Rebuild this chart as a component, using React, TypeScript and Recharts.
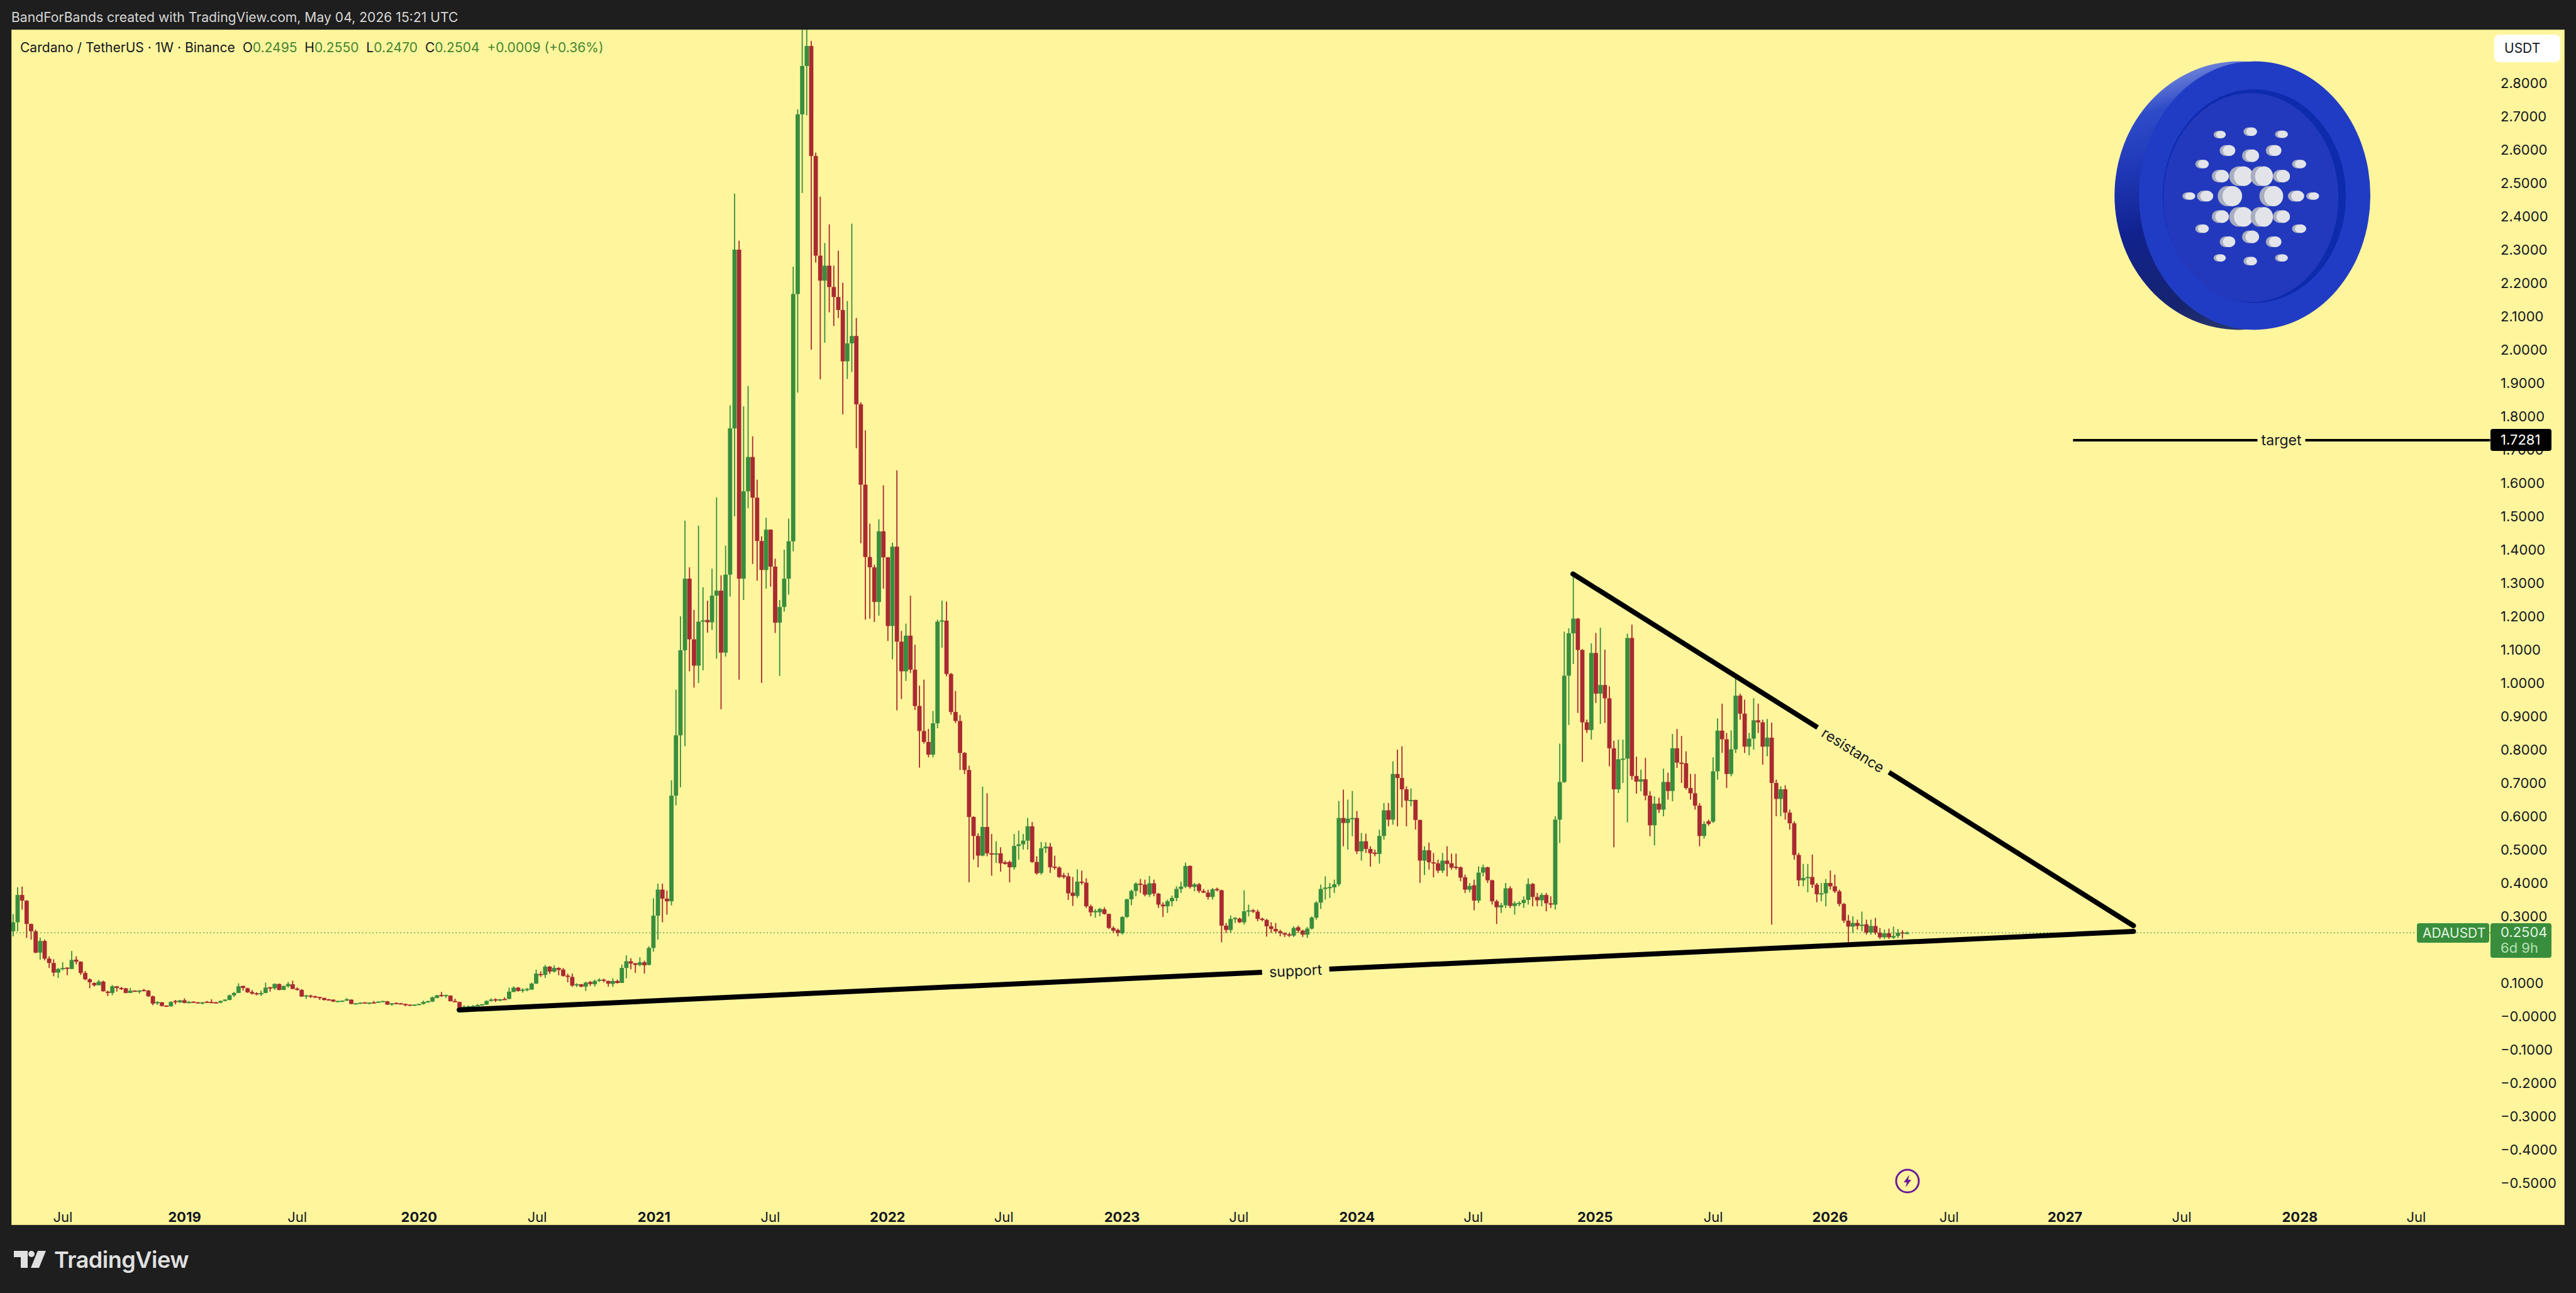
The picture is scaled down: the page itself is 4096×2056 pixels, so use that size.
import { Bar, ComposedChart, ReferenceDot, ReferenceLine, XAxis, YAxis } from 'recharts'

// weekly ADAUSDT candles as [open, high, low, close]
const candles2018 = [
	[0.255, 0.307, 0.24, 0.282], [0.282, 0.387, 0.255, 0.364], [0.364, 0.389, 0.32, 0.347], [0.347, 0.348, 0.235, 0.277],
	[0.277, 0.278, 0.23, 0.255], [0.255, 0.26, 0.189, 0.191], [0.191, 0.236, 0.17, 0.226], [0.226, 0.23, 0.168, 0.173],
	[0.173, 0.18, 0.145, 0.16], [0.16, 0.171, 0.12, 0.131], [0.131, 0.145, 0.115, 0.142], [0.142, 0.162, 0.138, 0.145],
	[0.146, 0.147, 0.123, 0.144], [0.142, 0.196, 0.142, 0.169], [0.17, 0.18, 0.156, 0.164], [0.164, 0.165, 0.124, 0.13],
	[0.13, 0.136, 0.108, 0.111], [0.111, 0.114, 0.084, 0.102], [0.1, 0.102, 0.089, 0.093], [0.093, 0.109, 0.093, 0.104],
	[0.104, 0.107, 0.074, 0.075], [0.074, 0.077, 0.061, 0.07], [0.07, 0.094, 0.063, 0.09], [0.09, 0.091, 0.074, 0.085],
	[0.085, 0.088, 0.079, 0.084], [0.084, 0.085, 0.069, 0.07], [0.07, 0.085, 0.07, 0.077], [0.077, 0.078, 0.074, 0.075],
	[0.075, 0.079, 0.068, 0.077], [0.079, 0.082, 0.075, 0.077], [0.077, 0.079, 0.058, 0.06], [0.06, 0.062, 0.033, 0.038],
	[0.039, 0.045, 0.034, 0.043], [0.042, 0.043, 0.029, 0.031], [0.032, 0.033, 0.029, 0.03], [0.03, 0.045, 0.029, 0.043],
	[0.046, 0.049, 0.036, 0.043], [0.042, 0.049, 0.04, 0.048]
]
const candles2019 = [
	[0.048, 0.054, 0.039, 0.04], [0.04, 0.046, 0.039, 0.043], [0.044, 0.045, 0.041, 0.042], [0.042, 0.043, 0.04, 0.041],
	[0.038, 0.043, 0.036, 0.042], [0.044, 0.046, 0.041, 0.042], [0.043, 0.051, 0.041, 0.042], [0.042, 0.043, 0.041, 0.041],
	[0.041, 0.047, 0.039, 0.046], [0.046, 0.051, 0.045, 0.05], [0.049, 0.065, 0.048, 0.063], [0.063, 0.073, 0.058, 0.07],
	[0.07, 0.099, 0.07, 0.09], [0.091, 0.092, 0.077, 0.085], [0.084, 0.086, 0.07, 0.072], [0.073, 0.079, 0.065, 0.068],
	[0.069, 0.072, 0.063, 0.066], [0.066, 0.077, 0.061, 0.07], [0.07, 0.101, 0.069, 0.086], [0.087, 0.088, 0.074, 0.086],
	[0.084, 0.099, 0.079, 0.097], [0.097, 0.098, 0.078, 0.079], [0.079, 0.092, 0.079, 0.091], [0.09, 0.103, 0.086, 0.097],
	[0.096, 0.107, 0.081, 0.082], [0.083, 0.087, 0.077, 0.082], [0.079, 0.082, 0.059, 0.059], [0.061, 0.064, 0.052, 0.063],
	[0.062, 0.065, 0.055, 0.061], [0.06, 0.062, 0.055, 0.056], [0.058, 0.058, 0.049, 0.056], [0.055, 0.056, 0.047, 0.049],
	[0.051, 0.052, 0.047, 0.049], [0.05, 0.051, 0.043, 0.044], [0.045, 0.047, 0.044, 0.046], [0.046, 0.047, 0.045, 0.047],
	[0.047, 0.055, 0.046, 0.051], [0.05, 0.051, 0.036, 0.037], [0.037, 0.04, 0.036, 0.039], [0.039, 0.042, 0.038, 0.041],
	[0.042, 0.042, 0.038, 0.04], [0.039, 0.042, 0.036, 0.041], [0.042, 0.046, 0.04, 0.041], [0.043, 0.045, 0.042, 0.044],
	[0.045, 0.046, 0.043, 0.046], [0.045, 0.046, 0.034, 0.035], [0.035, 0.04, 0.032, 0.039], [0.04, 0.042, 0.038, 0.039],
	[0.039, 0.04, 0.036, 0.037], [0.037, 0.038, 0.03, 0.036], [0.035, 0.036, 0.033, 0.034], [0.034, 0.036, 0.033, 0.035]
]
const candles2020 = [
	[0.035, 0.038, 0.034, 0.037], [0.037, 0.047, 0.035, 0.043], [0.043, 0.047, 0.041, 0.045], [0.044, 0.059, 0.043, 0.057],
	[0.055, 0.064, 0.054, 0.063], [0.064, 0.073, 0.058, 0.063], [0.063, 0.065, 0.055, 0.064], [0.062, 0.063, 0.045, 0.045],
	[0.046, 0.053, 0.043, 0.043], [0.043, 0.044, 0.024, 0.026], [0.026, 0.033, 0.024, 0.029], [0.029, 0.032, 0.027, 0.03],
	[0.03, 0.034, 0.029, 0.031], [0.032, 0.037, 0.031, 0.034], [0.034, 0.037, 0.033, 0.036], [0.035, 0.048, 0.034, 0.046],
	[0.046, 0.054, 0.044, 0.05], [0.051, 0.054, 0.043, 0.049], [0.047, 0.052, 0.045, 0.051], [0.052, 0.057, 0.05, 0.051],
	[0.052, 0.086, 0.051, 0.074], [0.073, 0.09, 0.072, 0.086], [0.086, 0.088, 0.074, 0.076], [0.078, 0.084, 0.071, 0.08],
	[0.08, 0.085, 0.075, 0.082], [0.08, 0.101, 0.08, 0.098], [0.098, 0.14, 0.097, 0.128], [0.127, 0.135, 0.118, 0.125],
	[0.124, 0.154, 0.115, 0.149], [0.149, 0.151, 0.127, 0.134], [0.134, 0.153, 0.131, 0.145], [0.145, 0.147, 0.123, 0.139],
	[0.14, 0.145, 0.119, 0.121], [0.122, 0.128, 0.102, 0.118], [0.118, 0.128, 0.088, 0.092], [0.094, 0.099, 0.088, 0.096],
	[0.096, 0.097, 0.087, 0.089], [0.089, 0.104, 0.076, 0.101], [0.103, 0.106, 0.091, 0.097], [0.096, 0.11, 0.089, 0.106],
	[0.107, 0.114, 0.103, 0.11], [0.11, 0.113, 0.102, 0.108], [0.106, 0.107, 0.089, 0.098], [0.097, 0.114, 0.088, 0.106],
	[0.106, 0.11, 0.098, 0.1], [0.1, 0.155, 0.1, 0.145], [0.145, 0.183, 0.114, 0.165], [0.165, 0.174, 0.141, 0.158],
	[0.159, 0.16, 0.13, 0.154], [0.154, 0.177, 0.15, 0.162], [0.162, 0.167, 0.128, 0.153], [0.154, 0.21, 0.153, 0.205]
]
const candles2021 = [
	[0.205, 0.354, 0.194, 0.302], [0.302, 0.398, 0.23, 0.38], [0.38, 0.398, 0.282, 0.353], [0.353, 0.377, 0.305, 0.345],
	[0.345, 0.708, 0.333, 0.662], [0.662, 0.98, 0.633, 0.843], [0.843, 1.2, 0.687, 1.098], [1.098, 1.487, 0.81, 1.313],
	[1.313, 1.347, 1.035, 1.131], [1.131, 1.219, 0.986, 1.052], [1.052, 1.472, 1.0, 1.184], [1.184, 1.287, 1.038, 1.188],
	[1.189, 1.247, 1.151, 1.182], [1.182, 1.343, 1.159, 1.262], [1.262, 1.557, 1.073, 1.277], [1.277, 1.323, 0.921, 1.091],
	[1.091, 1.412, 1.079, 1.325], [1.325, 1.833, 1.259, 1.764], [1.764, 2.468, 1.5, 2.3], [2.3, 2.327, 1.01, 1.313],
	[1.313, 1.83, 1.249, 1.575], [1.575, 1.891, 1.524, 1.678], [1.678, 1.74, 1.357, 1.556], [1.556, 1.61, 1.307, 1.426],
	[1.426, 1.44, 1.0, 1.339], [1.339, 1.496, 1.283, 1.46], [1.46, 1.461, 1.289, 1.349], [1.349, 1.373, 1.15, 1.181],
	[1.181, 1.249, 1.021, 1.228], [1.228, 1.4, 1.214, 1.313], [1.313, 1.493, 1.265, 1.425], [1.425, 2.249, 1.395, 2.167],
	[2.167, 2.721, 1.871, 2.706], [2.706, 3.05, 2.47, 2.851], [2.851, 3.1, 2.703, 2.911], [2.911, 2.926, 2.0, 2.581],
	[2.581, 2.591, 2.261, 2.282], [2.282, 2.459, 1.911, 2.207], [2.207, 2.32, 2.021, 2.252], [2.252, 2.376, 2.112, 2.188],
	[2.188, 2.252, 2.071, 2.158], [2.158, 2.297, 2.095, 2.119], [2.119, 2.201, 1.806, 1.965], [1.965, 2.146, 1.912, 2.019],
	[2.019, 2.378, 1.933, 2.041], [2.041, 2.095, 1.704, 1.836], [1.836, 1.842, 1.419, 1.595], [1.595, 1.758, 1.19, 1.378],
	[1.378, 1.478, 1.193, 1.347], [1.347, 1.355, 1.183, 1.243], [1.243, 1.491, 1.202, 1.455], [1.455, 1.593, 1.283, 1.377]
]
const candles2022 = [
	[1.377, 1.378, 1.126, 1.171], [1.171, 1.421, 1.071, 1.409], [1.409, 1.638, 0.918, 1.124], [1.124, 1.156, 0.952, 1.035],
	[1.035, 1.178, 1.006, 1.142], [1.142, 1.262, 1.03, 1.04], [1.04, 1.115, 0.919, 0.931], [0.931, 0.992, 0.746, 0.856],
	[0.856, 1.01, 0.818, 0.823], [0.823, 0.862, 0.777, 0.785], [0.785, 0.916, 0.777, 0.879], [0.879, 1.19, 0.864, 1.184],
	[1.184, 1.247, 1.106, 1.188], [1.187, 1.244, 1.02, 1.027], [1.027, 1.03, 0.905, 0.913], [0.913, 0.976, 0.88, 0.886],
	[0.886, 0.904, 0.739, 0.79], [0.79, 0.793, 0.727, 0.739], [0.739, 0.752, 0.402, 0.598], [0.598, 0.6, 0.47, 0.541],
	[0.541, 0.549, 0.447, 0.482], [0.482, 0.689, 0.48, 0.568], [0.568, 0.669, 0.48, 0.489], [0.489, 0.547, 0.422, 0.485],
	[0.485, 0.525, 0.46, 0.489], [0.489, 0.507, 0.434, 0.459], [0.462, 0.467, 0.455, 0.457], [0.463, 0.467, 0.402, 0.447],
	[0.447, 0.547, 0.44, 0.511], [0.511, 0.557, 0.47, 0.516], [0.516, 0.547, 0.5, 0.527], [0.527, 0.595, 0.5, 0.57],
	[0.57, 0.583, 0.46, 0.463], [0.463, 0.48, 0.425, 0.429], [0.43, 0.523, 0.425, 0.504], [0.504, 0.522, 0.49, 0.509],
	[0.509, 0.52, 0.43, 0.447], [0.449, 0.482, 0.44, 0.446], [0.446, 0.45, 0.415, 0.418], [0.423, 0.43, 0.413, 0.418],
	[0.42, 0.43, 0.349, 0.369], [0.371, 0.418, 0.331, 0.361], [0.361, 0.441, 0.355, 0.404], [0.404, 0.437, 0.395, 0.401],
	[0.401, 0.414, 0.325, 0.33], [0.33, 0.335, 0.3, 0.312], [0.312, 0.322, 0.296, 0.316], [0.312, 0.325, 0.3, 0.322],
	[0.321, 0.327, 0.305, 0.307], [0.307, 0.308, 0.262, 0.265], [0.265, 0.27, 0.25, 0.257], [0.259, 0.263, 0.24, 0.25]
]
const candles2023 = [
	[0.249, 0.3, 0.245, 0.298], [0.298, 0.353, 0.295, 0.351], [0.351, 0.38, 0.333, 0.376], [0.376, 0.402, 0.36, 0.398],
	[0.398, 0.412, 0.37, 0.395], [0.395, 0.41, 0.36, 0.365], [0.365, 0.421, 0.358, 0.399], [0.399, 0.41, 0.36, 0.368],
	[0.368, 0.37, 0.325, 0.335], [0.335, 0.342, 0.298, 0.33], [0.33, 0.35, 0.31, 0.345], [0.345, 0.362, 0.33, 0.355],
	[0.355, 0.39, 0.345, 0.382], [0.382, 0.404, 0.37, 0.389], [0.389, 0.461, 0.385, 0.451], [0.451, 0.453, 0.383, 0.388],
	[0.388, 0.4, 0.375, 0.396], [0.396, 0.4, 0.37, 0.376], [0.376, 0.382, 0.37, 0.371], [0.371, 0.38, 0.35, 0.358],
	[0.358, 0.385, 0.35, 0.381], [0.382, 0.386, 0.375, 0.378], [0.378, 0.38, 0.222, 0.272], [0.272, 0.28, 0.25, 0.259],
	[0.259, 0.303, 0.25, 0.292], [0.292, 0.298, 0.28, 0.295], [0.293, 0.296, 0.28, 0.282], [0.282, 0.378, 0.275, 0.315],
	[0.315, 0.335, 0.3, 0.318], [0.318, 0.322, 0.31, 0.314], [0.314, 0.32, 0.285, 0.292], [0.293, 0.296, 0.285, 0.289],
	[0.289, 0.292, 0.239, 0.27], [0.27, 0.282, 0.25, 0.262], [0.262, 0.28, 0.248, 0.255], [0.255, 0.26, 0.24, 0.249],
	[0.249, 0.252, 0.238, 0.245], [0.246, 0.25, 0.238, 0.242], [0.242, 0.27, 0.238, 0.265], [0.267, 0.272, 0.25, 0.257],
	[0.257, 0.26, 0.238, 0.245], [0.245, 0.268, 0.235, 0.263], [0.263, 0.3, 0.26, 0.296], [0.296, 0.345, 0.29, 0.341],
	[0.341, 0.395, 0.322, 0.382], [0.382, 0.42, 0.35, 0.386], [0.386, 0.4, 0.355, 0.388], [0.387, 0.41, 0.37, 0.396],
	[0.396, 0.646, 0.39, 0.595], [0.595, 0.68, 0.51, 0.58], [0.58, 0.65, 0.5, 0.593], [0.593, 0.676, 0.54, 0.595]
]
const candles2024 = [
	[0.595, 0.616, 0.487, 0.495], [0.495, 0.55, 0.467, 0.525], [0.525, 0.548, 0.49, 0.502], [0.502, 0.51, 0.449, 0.489],
	[0.491, 0.5, 0.48, 0.487], [0.487, 0.56, 0.458, 0.541], [0.541, 0.64, 0.53, 0.618], [0.618, 0.64, 0.57, 0.59],
	[0.59, 0.765, 0.575, 0.727], [0.727, 0.8, 0.57, 0.715], [0.715, 0.81, 0.627, 0.681], [0.681, 0.69, 0.57, 0.647],
	[0.647, 0.684, 0.63, 0.649], [0.649, 0.65, 0.56, 0.589], [0.589, 0.59, 0.4, 0.467], [0.467, 0.51, 0.424, 0.498],
	[0.498, 0.521, 0.44, 0.462], [0.462, 0.49, 0.417, 0.459], [0.459, 0.47, 0.43, 0.437], [0.437, 0.49, 0.43, 0.467],
	[0.467, 0.51, 0.42, 0.457], [0.459, 0.488, 0.44, 0.446], [0.449, 0.488, 0.44, 0.447], [0.447, 0.45, 0.405, 0.416],
	[0.417, 0.425, 0.37, 0.38], [0.38, 0.4, 0.372, 0.391], [0.393, 0.41, 0.318, 0.347], [0.347, 0.45, 0.34, 0.431],
	[0.431, 0.455, 0.42, 0.447], [0.447, 0.449, 0.4, 0.408], [0.408, 0.41, 0.335, 0.345], [0.345, 0.35, 0.277, 0.327],
	[0.327, 0.34, 0.31, 0.333], [0.333, 0.4, 0.325, 0.384], [0.384, 0.39, 0.325, 0.331], [0.331, 0.345, 0.305, 0.339],
	[0.339, 0.345, 0.33, 0.34], [0.34, 0.36, 0.325, 0.349], [0.349, 0.414, 0.335, 0.397], [0.397, 0.4, 0.33, 0.358],
	[0.358, 0.37, 0.33, 0.348], [0.348, 0.37, 0.33, 0.364], [0.364, 0.37, 0.315, 0.339], [0.339, 0.36, 0.325, 0.335],
	[0.335, 0.6, 0.32, 0.59], [0.59, 0.818, 0.52, 0.703], [0.703, 1.154, 0.7, 1.022], [1.022, 1.164, 0.874, 1.149],
	[1.149, 1.327, 1.057, 1.193], [1.193, 1.195, 0.91, 1.099], [1.099, 1.102, 0.763, 0.882], [0.882, 0.89, 0.85, 0.859]
]
const candles2025 = [
	[0.859, 1.119, 0.83, 1.09], [1.09, 1.15, 0.94, 0.968], [0.968, 1.166, 0.877, 0.994], [0.994, 1.1, 0.88, 0.954],
	[0.954, 0.99, 0.75, 0.804], [0.804, 0.827, 0.507, 0.681], [0.681, 0.83, 0.67, 0.771], [0.771, 0.83, 0.7, 0.773],
	[0.773, 1.148, 0.582, 1.135], [1.135, 1.175, 0.71, 0.721], [0.721, 0.779, 0.668, 0.704], [0.704, 0.74, 0.675, 0.711],
	[0.711, 0.775, 0.648, 0.662], [0.662, 0.675, 0.54, 0.573], [0.573, 0.66, 0.513, 0.638], [0.638, 0.656, 0.61, 0.62],
	[0.62, 0.743, 0.6, 0.703], [0.703, 0.731, 0.65, 0.676], [0.676, 0.847, 0.645, 0.804], [0.804, 0.862, 0.745, 0.761],
	[0.761, 0.841, 0.7, 0.759], [0.759, 0.795, 0.68, 0.685], [0.685, 0.727, 0.65, 0.669], [0.669, 0.727, 0.62, 0.632],
	[0.632, 0.64, 0.51, 0.541], [0.541, 0.585, 0.533, 0.577], [0.585, 0.59, 0.572, 0.577], [0.584, 0.777, 0.58, 0.735],
	[0.735, 0.894, 0.71, 0.857], [0.857, 0.938, 0.79, 0.831], [0.831, 0.85, 0.685, 0.727], [0.727, 0.858, 0.72, 0.801],
	[0.801, 1.021, 0.79, 0.962], [0.962, 0.968, 0.89, 0.908], [0.908, 0.95, 0.79, 0.809], [0.809, 0.85, 0.783, 0.833],
	[0.833, 0.954, 0.8, 0.888], [0.888, 0.938, 0.85, 0.882], [0.882, 0.89, 0.755, 0.809], [0.809, 0.892, 0.78, 0.836],
	[0.836, 0.881, 0.275, 0.7], [0.7, 0.71, 0.6, 0.652], [0.652, 0.69, 0.6, 0.681], [0.681, 0.693, 0.59, 0.611],
	[0.611, 0.62, 0.56, 0.579], [0.579, 0.585, 0.47, 0.484], [0.484, 0.49, 0.39, 0.408], [0.408, 0.457, 0.39, 0.415],
	[0.415, 0.457, 0.372, 0.418], [0.418, 0.485, 0.385, 0.395], [0.395, 0.4, 0.342, 0.366], [0.366, 0.4, 0.345, 0.369],
	[0.369, 0.412, 0.33, 0.4]
]
const candles2026 = [
	[0.4, 0.4375, 0.38, 0.39], [0.39, 0.425, 0.37, 0.375], [0.375, 0.38, 0.33, 0.337], [0.337, 0.34, 0.28, 0.287],
	[0.287, 0.304, 0.223, 0.269], [0.269, 0.3, 0.25, 0.28], [0.28, 0.29, 0.26, 0.271], [0.271, 0.314, 0.255, 0.275],
	[0.276, 0.29, 0.245, 0.251], [0.251, 0.29, 0.245, 0.271], [0.271, 0.295, 0.245, 0.251], [0.251, 0.265, 0.232, 0.237],
	[0.237, 0.26, 0.232, 0.249], [0.249, 0.263, 0.232, 0.237], [0.236, 0.269, 0.232, 0.241], [0.241, 0.262, 0.235, 0.2508],
	[0.252, 0.258, 0.233, 0.2495], [0.2495, 0.255, 0.247, 0.2504]
]
const candles = [
	...candles2018,
	...candles2019,
	...candles2020,
	...candles2021,
	...candles2022,
	...candles2023,
	...candles2024,
	...candles2025,
	...candles2026
]

// 0.2000 sits behind the last price tag in the picture, so it is left out
const priceTicks = [
	2.8, 2.7, 2.6, 2.5, 2.4, 2.3, 2.2, 2.1, 2, 1.9, 1.8, 1.7, 1.6, 1.5, 1.4, 1.3, 1.2, 1.1, 1, 0.9, 0.8, 0.7, 0.6, 0.5, 0.4,
	0.3, 0.1, 0, -0.1, -0.2, -0.3, -0.4, -0.5
]
const timeTicks = [
	11, 38, 63, 90, 116.2, 142.1, 167.9, 193.9, 219.7, 245.9, 271.8, 298, 323.8, 350.8, 377, 402.9, 429.3, 455, 480.9, 507.1,
	532.9
]
const timeLabels = [
	'Jul', '2019', 'Jul', '2020', 'Jul', '2021', 'Jul', '2022', 'Jul', '2023', 'Jul', '2024', 'Jul', '2025', 'Jul', '2026',
	'Jul', '2027', 'Jul', '2028', 'Jul'
]

// trend lines, in week number / price
const supportLine = [{ x: 98.9, y: 0.019 }, { x: 470.2, y: 0.2547 }]
const resistanceLine = [{ x: 345.9, y: 1.327 }, { x: 470.2, y: 0.2717 }]
const targetLine = [{ x: 456.8, y: 1.7281 }, { x: 549.3, y: 1.7281 }]
const lastPrice = 0.2504

const GREEN = '#388e3c'
const RED = '#a92a30'
const YELLOW = '#fff59d'

// coin logo dots, in the coin's own drawing units: centre x, centre y, width, height
const coinDots = [
	[518, 379, 36, 26], [608, 369, 40, 30], [700, 378, 38, 26],
	[541, 434, 46, 38], [609, 452, 50, 44], [677, 434, 46, 38],
	[466, 481, 40, 30], [752, 481, 42, 30],
	[520, 523, 50, 44], [581, 523, 70, 68], [642, 523, 66, 68], [700, 523, 50, 44],
	[427, 592, 38, 26], [475, 592, 48, 38], [548, 592, 72, 70], [670, 592, 70, 70], [743, 592, 48, 38], [792, 592, 38, 26],
	[520, 663, 50, 44], [581, 664, 70, 68], [642, 664, 66, 68], [700, 663, 50, 44],
	[466, 705, 40, 30], [752, 705, 42, 30],
	[541, 750, 46, 38], [609, 733, 50, 44], [677, 750, 46, 38],
	[518, 806, 36, 26], [608, 817, 40, 30], [700, 806, 38, 26]
]

const rows = candles.map(([open, high, low, close], week) => ({
	week,
	wick: [low, high],
	body: [Math.min(open, close), Math.max(open, close)],
	up: close >= open
}))

function WickShape({ x, y, width, height, payload }: any) {
	return (
		<rect
			x={x + width / 2 - 0.9}
			y={y}
			width={1.8}
			height={Math.abs(height)}
			fill={payload.up ? GREEN : RED}
		/>
	)
}

function BodyShape({ x, y, width, height, payload }: any) {
	return (
		<rect
			x={x}
			y={y}
			width={width}
			height={Math.max(Math.abs(height), 2)}
			fill={payload.up ? GREEN : RED}
		/>
	)
}

function TimeTick({ x, y, index }: any) {
	const label = timeLabels[index]
	return (
		<text
			x={x}
			y={y + 37}
			textAnchor="middle"
			dominantBaseline="central"
			fontFamily="Inter"
			fontSize={22}
			fontWeight={label === 'Jul' ? 400 : 700}
			fill="#131722"
		>
			{label}
		</text>
	)
}

function LineLabel({ cx, cy, text, angle, width }: any) {
	return (
		<g transform={`translate(${cx},${cy}) rotate(${angle})`}>
			<rect
				x={-width / 2}
				y={-16}
				width={width}
				height={32}
				fill={YELLOW}
			/>
			<text
				textAnchor="middle"
				dominantBaseline="central"
				fontFamily="Inter"
				fontSize={23}
				fill="#131722"
			>
				{text}
			</text>
		</g>
	)
}

function formatPrice(v: number) {
	return v <= 0 ? `\u2212${Math.abs(v).toFixed(4)}` : v.toFixed(4)
}

function CoinLogo() {
	return (
		<svg
			style={{ position: 'absolute', left: 3250, top: 40 }}
			width={846}
			height={720}
			viewBox="0 0 1568 1568"
			preserveAspectRatio="none"
		>
			<defs>
				<linearGradient
					id="coinEdge"
					x1="0.3"
					y1="0"
					x2="0.55"
					y2="1"
				>
					<stop
						offset="0%"
						stopColor="#7b8fdc"
					/>
					<stop
						offset="14%"
						stopColor="#2f4cc8"
					/>
					<stop
						offset="32%"
						stopColor="#1f38b8"
					/>
					<stop
						offset="55%"
						stopColor="#11228e"
					/>
					<stop
						offset="85%"
						stopColor="#16246e"
					/>
					<stop
						offset="100%"
						stopColor="#2b3a70"
					/>
				</linearGradient>
			</defs>
			<ellipse
				cx={575}
				cy={590}
				rx={367}
				ry={465}
				fill="url(#coinEdge)"
			/>
			<ellipse
				cx={621}
				cy={590}
				rx={341}
				ry={465}
				fill="#213cc4"
			/>
			<ellipse
				cx={620}
				cy={592}
				rx={270}
				ry={370}
				fill="#0d2bac"
			/>
			<ellipse
				cx={610}
				cy={597}
				rx={258}
				ry={362}
				fill="#2239bd"
			/>
			{coinDots.map(([cx, cy, w, h], i) => (
				<g key={i}>
					<ellipse
						cx={cx - w * 0.1}
						cy={cy}
						rx={w * 0.4}
						ry={h / 2}
						fill="#a9adc0"
					/>
					<ellipse
						cx={cx + w * 0.1}
						cy={cy}
						rx={w * 0.4}
						ry={h / 2}
						fill="#e3e4e9"
					/>
				</g>
			))}
		</svg>
	)
}

function PriceTag({ left, top, width, height, bg, children }: any) {
	return (
		<div
			style={{
				position: 'absolute',
				left,
				top,
				width,
				height,
				background: bg,
				borderRadius: 4,
				fontSize: 22,
				lineHeight: '25px',
				color: '#e4f4e0',
				boxSizing: 'border-box',
				whiteSpace: 'pre'
			}}
		>
			{children}
		</div>
	)
}

const legendValue = { color: '#43862f' }

export default function App() {
	return (
		<div
			style={{
				position: 'absolute',
				left: 0,
				top: 0,
				width: 4096,
				height: 2056,
				background: '#1e1e1e',
				overflow: 'hidden',
				fontFamily: 'Inter'
			}}
		>
			<div
				style={{
					position: 'absolute',
					left: 18,
					top: 14,
					fontSize: 21.15,
					lineHeight: '28px',
					color: '#d6d6d6',
					whiteSpace: 'pre'
				}}
			>
				BandForBands created with TradingView.com, May 04, 2026 15:21 UTC
			</div>

			<div
				style={{
					position: 'absolute',
					left: 18,
					top: 47,
					width: 4060,
					height: 1901,
					background: YELLOW,
					boxShadow: 'inset 0 0 0 1px #cfc67c'
				}}
			>
				<ComposedChart
					width={4060}
					height={1901}
					data={rows}
					barSize={6.8}
					barGap={-6.8}
					margin={{ top: 0, right: 0, bottom: 0, left: 0 }}
				>
					<XAxis
						dataKey="week"
						type="number"
						domain={[-0.42, 549.37]}
						allowDataOverflow
						ticks={timeTicks}
						interval={0}
						height={58}
						tick={<TimeTick />}
						tickLine={false}
						axisLine={false}
					/>
					<YAxis
						orientation="right"
						type="number"
						domain={[-0.517, 2.9604]}
						allowDataOverflow
						ticks={priceTicks}
						interval={0}
						width={118}
						tickSize={0}
						tickMargin={16}
						tickFormatter={formatPrice}
						tickLine={false}
						axisLine={false}
						tick={{ fontFamily: 'Inter', fontSize: 22, fill: '#131722' }}
					/>
					<ReferenceLine
						y={lastPrice}
						stroke={GREEN}
						strokeWidth={1.5}
						strokeDasharray="1.5 4"
					/>
					<Bar
						dataKey="wick"
						shape={<WickShape />}
						isAnimationActive={false}
					/>
					<Bar
						dataKey="body"
						shape={<BodyShape />}
						isAnimationActive={false}
					/>
					<ReferenceLine
						segment={supportLine}
						stroke="#000"
						strokeWidth={8}
						strokeLinecap="round"
					/>
					<ReferenceLine
						segment={resistanceLine}
						stroke="#000"
						strokeWidth={8}
						strokeLinecap="round"
					/>
					<ReferenceLine
						segment={targetLine}
						stroke="#000"
						strokeWidth={4}
					/>
					<ReferenceDot
						x={284.4}
						y={0.1362}
						shape={(p: any) => (
							<LineLabel
								{...p}
								text="support"
								angle={-2.7}
								width={107}
							/>
						)}
					/>
					<ReferenceDot
						x={408}
						y={0.798}
						shape={(p: any) => (
							<LineLabel
								{...p}
								text="resistance"
								angle={32.1}
								width={134}
							/>
						)}
					/>
					<ReferenceDot
						x={503}
						y={1.7281}
						shape={(p: any) => (
							<LineLabel
								{...p}
								text="target"
								angle={0}
								width={76}
							/>
						)}
					/>
				</ComposedChart>
			</div>

			<div
				style={{
					position: 'absolute',
					left: 32,
					top: 62,
					fontSize: 21.05,
					lineHeight: '28px',
					color: '#131722',
					whiteSpace: 'pre'
				}}
			>
				{'Cardano / TetherUS \u00b7 1W \u00b7 Binance  O'}
				<span style={legendValue}>0.2495</span>
				{'  H'}
				<span style={legendValue}>0.2550</span>
				{'  L'}
				<span style={legendValue}>0.2470</span>
				{'  C'}
				<span style={legendValue}>0.2504</span>
				<span style={legendValue}>{'  +0.0009 (+0.36%)'}</span>
			</div>

			<CoinLogo />

			<div
				style={{
					position: 'absolute',
					left: 3966,
					top: 55,
					width: 105,
					height: 44,
					background: '#fff',
					borderRadius: 8,
					fontSize: 21,
					lineHeight: '44px',
					paddingLeft: 16,
					boxSizing: 'border-box',
					color: '#131722'
				}}
			>
				USDT
			</div>

			<PriceTag
				left={3960}
				top={682}
				width={97}
				height={35}
				bg="#000"
			>
				<div style={{ color: '#fff', paddingLeft: 16, lineHeight: '35px' }}>1.7281</div>
			</PriceTag>

			<PriceTag
				left={3843}
				top={1468}
				width={115}
				height={31}
				bg={GREEN}
			>
				<div style={{ paddingLeft: 9, lineHeight: '31px', fontSize: 21 }}>ADAUSDT</div>
			</PriceTag>

			<PriceTag
				left={3960}
				top={1468}
				width={97}
				height={55}
				bg={GREEN}
			>
				<div style={{ paddingLeft: 16, paddingTop: 2 }}>0.2504</div>
				<div style={{ paddingLeft: 16, color: '#b5e0b5' }}>6d 9h</div>
			</PriceTag>

			<svg
				style={{ position: 'absolute', left: 3008, top: 1853 }}
				width={50}
				height={50}
				viewBox="0 0 50 50"
			>
				<circle
					cx={25}
					cy={25}
					r={18}
					fill="none"
					stroke="#6a1b9a"
					strokeWidth={3}
				/>
				<path
					d="M28 15 L19 27 L24 27 L22 35 L31 23 L26 23 Z"
					fill="#6a1b9a"
				/>
			</svg>

			<svg
				style={{ position: 'absolute', left: 0, top: 1970 }}
				width={90}
				height={60}
				viewBox="0 0 90 60"
			>
				<path
					d="M22 19 H44 V46 H33 V29 H22 Z"
					fill="#e0e0e0"
				/>
				<circle
					cx={50}
					cy={24}
					r={5}
					fill="#e0e0e0"
				/>
				<path
					d="M60 19 H73 L62 46 H49 Z"
					fill="#e0e0e0"
				/>
			</svg>

			<div
				style={{
					position: 'absolute',
					left: 86,
					top: 1978,
					fontSize: 36,
					lineHeight: '50px',
					fontWeight: 600,
					letterSpacing: -0.5,
					color: '#e0e0e0'
				}}
			>
				TradingView
			</div>
		</div>
	)
}
